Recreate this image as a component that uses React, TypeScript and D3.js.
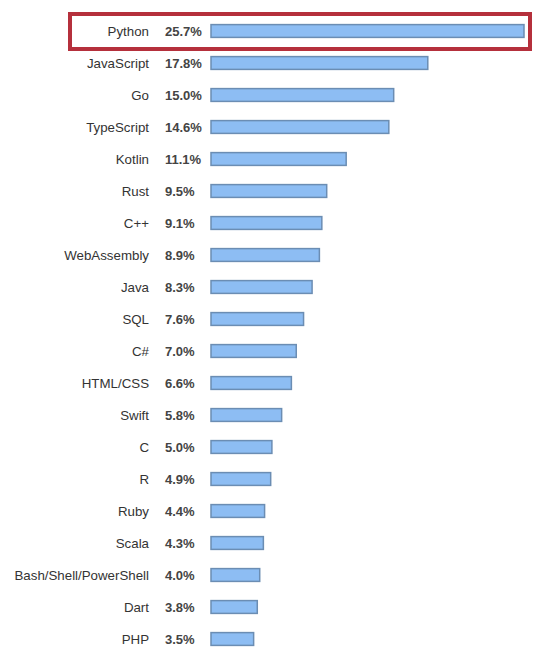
import React from "react";
import * as d3 from "d3";

const languages = [
  "Python", "JavaScript", "Go", "TypeScript", "Kotlin", "Rust", "C++", "WebAssembly",
  "Java", "SQL", "C#", "HTML/CSS", "Swift", "C", "R", "Ruby", "Scala",
  "Bash/Shell/PowerShell", "Dart", "PHP",
];
const shares = [25.7, 17.8, 15.0, 14.6, 11.1, 9.5, 9.1, 8.9, 8.3, 7.6, 7.0, 6.6, 5.8, 5.0, 4.9, 4.4, 4.3, 4.0, 3.8, 3.5];
const highlighted = ["Python"];

export default function App() {
  const W = 536, H = 649;
  const x = d3.scaleLinear().domain([0, 25.7]).range([211, 524]);
  const y = d3.scaleBand().domain(languages).range([15, 655]).paddingInner(0.6).paddingOuter(0.3);
  const bw = y.bandwidth();
  return (
    <svg width={W} height={H} style={{ position: "absolute", left: 0, top: 0, background: "#fff", fontFamily: "Arial, 'Liberation Sans', sans-serif" }}>
      {languages.map((lang, i) => {
        const yc = (y(lang) as number) + bw / 2;
        return (
          <g key={lang}>
            <text x={149} y={yc} dy="0.36em" textAnchor="end" fontSize={13.3} fill="#333">{lang}</text>
            <text x={165} y={yc} dy="0.36em" fontSize={13} fontWeight="bold" fill="#444">{shares[i].toFixed(1)}%</text>
            <rect x={x(0)} y={yc - bw / 2} width={x(shares[i]) - x(0)} height={bw} fill="#8dbdf3" stroke="#6b8db3" strokeWidth={1.5} />
            {highlighted.includes(lang) && (
              <rect x={70} y={yc - 17} width={460} height={35} fill="none" stroke="#b5303c" strokeWidth={4} />
            )}
          </g>
        );
      })}
    </svg>
  );
}
